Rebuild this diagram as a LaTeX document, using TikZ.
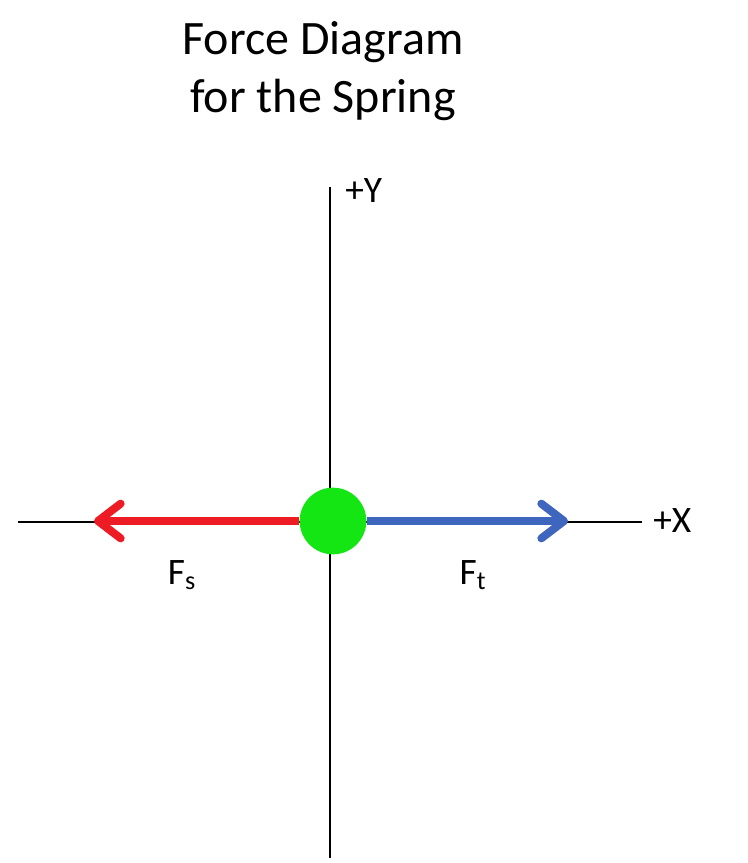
\documentclass[tikz,border=0pt]{standalone}
\usepackage{fontspec}
\setmainfont{Carlito}
\usetikzlibrary{arrows.meta}
\definecolor{springred}{RGB}{237,28,36}
\definecolor{tensionblue}{RGB}{63,102,191}
\definecolor{massgreen}{RGB}{20,230,20}
\tikzset{
  axis/.style={line width=1.5pt},
  force/.style={line width=6pt, -{Straight Barb[length=17pt,width=26pt,round]}},
  lbl/.style={font=\fontsize{28}{32}\selectfont, inner sep=0pt}
}
\begin{document}
\begin{tikzpicture}[x=0.75pt,y=-0.75pt]
\useasboundingbox (0,0) rectangle (748,863);
% axes
\coordinate (ytop) at (330,187);
\coordinate (ybot) at (330,858);
\coordinate (xleft) at (18,522);
\coordinate (xright) at (642,522);
\draw[axis] (ytop) -- (ybot);
\draw[axis] (xleft) -- (xright);
\node[lbl, anchor=west] (ylbl) at (345,191) {+Y};
\node[lbl, anchor=west] (xlbl) at (653,521) {+X};
% the spring
\node[circle, fill=massgreen, minimum size=50, inner sep=0pt] (mass) at (333,521){};
\coordinate (stip) at (94,521);
\coordinate (ttip) at (568,521);
\draw[force, springred] (mass.west) -- (stip);
\draw[force, tensionblue] (mass.east) -- (ttip);
\node[lbl] (fs) at (182,575) {F\textsubscript{s}};
\node[lbl] (ft) at (473,575) {F\textsubscript{t}};
% title
\node[align=center, font=\fontsize{36}{43.5}\selectfont] (title) at (323,71) {Force Diagram\\for the Spring};
\end{tikzpicture}
\end{document}
